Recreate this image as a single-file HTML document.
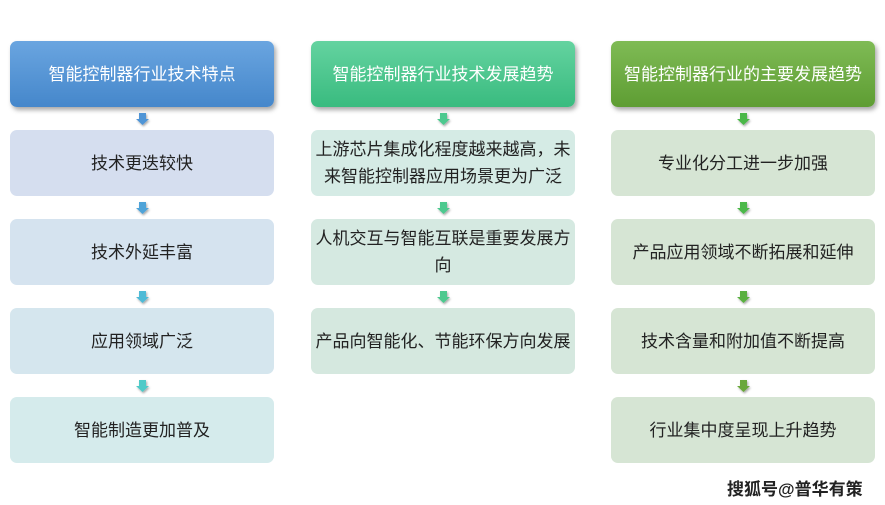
<!DOCTYPE html>
<html><head><meta charset="utf-8"><style>
body{margin:0;width:885px;height:505px;background:#fff;position:relative;overflow:hidden;font-family:"Liberation Sans","Noto Sans CJK SC",sans-serif;}
.b{position:absolute;width:264px;height:66px;border-radius:7px;display:flex;align-items:center;justify-content:center;text-align:center;font-size:17px;color:#222;line-height:27px;box-sizing:border-box;padding:0 4px;}
.h{color:#fff;font-size:17px;box-shadow:2px 3px 5px rgba(0,0,0,0.35);padding:0 2px;}
.wm{position:absolute;left:727px;top:475px;font-size:17px;font-weight:bold;color:#222;text-shadow:0 0 2px #fff,0 0 2px #fff;}
</style></head><body>
<div class="b h" style="left:10px;top:41px;background:linear-gradient(#6aa5e0,#4587cb)">智能控制器行业技术特点</div>
<div class="b h" style="left:311px;top:41px;background:linear-gradient(#64d3a0,#39bb7f)">智能控制器行业技术发展趋势</div>
<div class="b h" style="left:611px;top:41px;background:linear-gradient(#7fbb55,#5e9d33)">智能控制器行业的主要发展趋势</div>

<div class="b" style="left:10px;top:130px;background:#d5deef">技术更迭较快</div>
<div class="b" style="left:10px;top:219px;background:#d5e3ef">技术外延丰富</div>
<div class="b" style="left:10px;top:308px;background:#d5e6ee">应用领域广泛</div>
<div class="b" style="left:10px;top:397px;background:#d5ebec">智能制造更加普及</div>

<div class="b" style="left:311px;top:130px;background:#d5ebe5">上游芯片集成化程度越来越高，未来智能控制器应用场景更为广泛</div>
<div class="b" style="left:311px;top:219px;background:#d5e9e1">人机交互与智能互联是重要发展方向</div>
<div class="b" style="left:311px;top:308px;background:#d5e8df">产品向智能化、节能环保方向发展</div>

<div class="b" style="left:611px;top:130px;background:#d6e5d4">专业化分工进一步加强</div>
<div class="b" style="left:611px;top:219px;background:#d6e5d4">产品应用领域不断拓展和延伸</div>
<div class="b" style="left:611px;top:308px;background:#d6e5d4">技术含量和附加值不断提高</div>
<div class="b" style="left:611px;top:397px;background:#d6e5d4">行业集中度呈现上升趋势</div>

<svg width="885" height="505" style="position:absolute;left:0;top:0">
<defs><filter id="s"><feDropShadow dx="1" dy="1.5" stdDeviation="1" flood-opacity="0.35"/></filter></defs>
<g filter="url(#s)">
<path d="M139 113h7v6h3l-6.5 6l-6.5-6h3z" fill="#4f95d6"/>
<path d="M139 202h7v6h3l-6.5 6l-6.5-6h3z" fill="#4fa3d8"/>
<path d="M139 291h7v6h3l-6.5 6l-6.5-6h3z" fill="#4fbad6"/>
<path d="M139 380h7v6h3l-6.5 6l-6.5-6h3z" fill="#4fcac8"/>
<path d="M440 113h7v6h3l-6.5 6l-6.5-6h3z" fill="#4dc98f"/>
<path d="M440 202h7v6h3l-6.5 6l-6.5-6h3z" fill="#4dc98f"/>
<path d="M440 291h7v6h3l-6.5 6l-6.5-6h3z" fill="#4dc98f"/>
<path d="M740 113h7v6h3l-6.5 6l-6.5-6h3z" fill="#4cb84a"/>
<path d="M740 202h7v6h3l-6.5 6l-6.5-6h3z" fill="#4cb84a"/>
<path d="M740 291h7v6h3l-6.5 6l-6.5-6h3z" fill="#5ab040"/>
<path d="M740 380h7v6h3l-6.5 6l-6.5-6h3z" fill="#6aa83a"/>
</g>
</svg>
<div class="wm">搜狐号@普华有策</div>
</body></html>
